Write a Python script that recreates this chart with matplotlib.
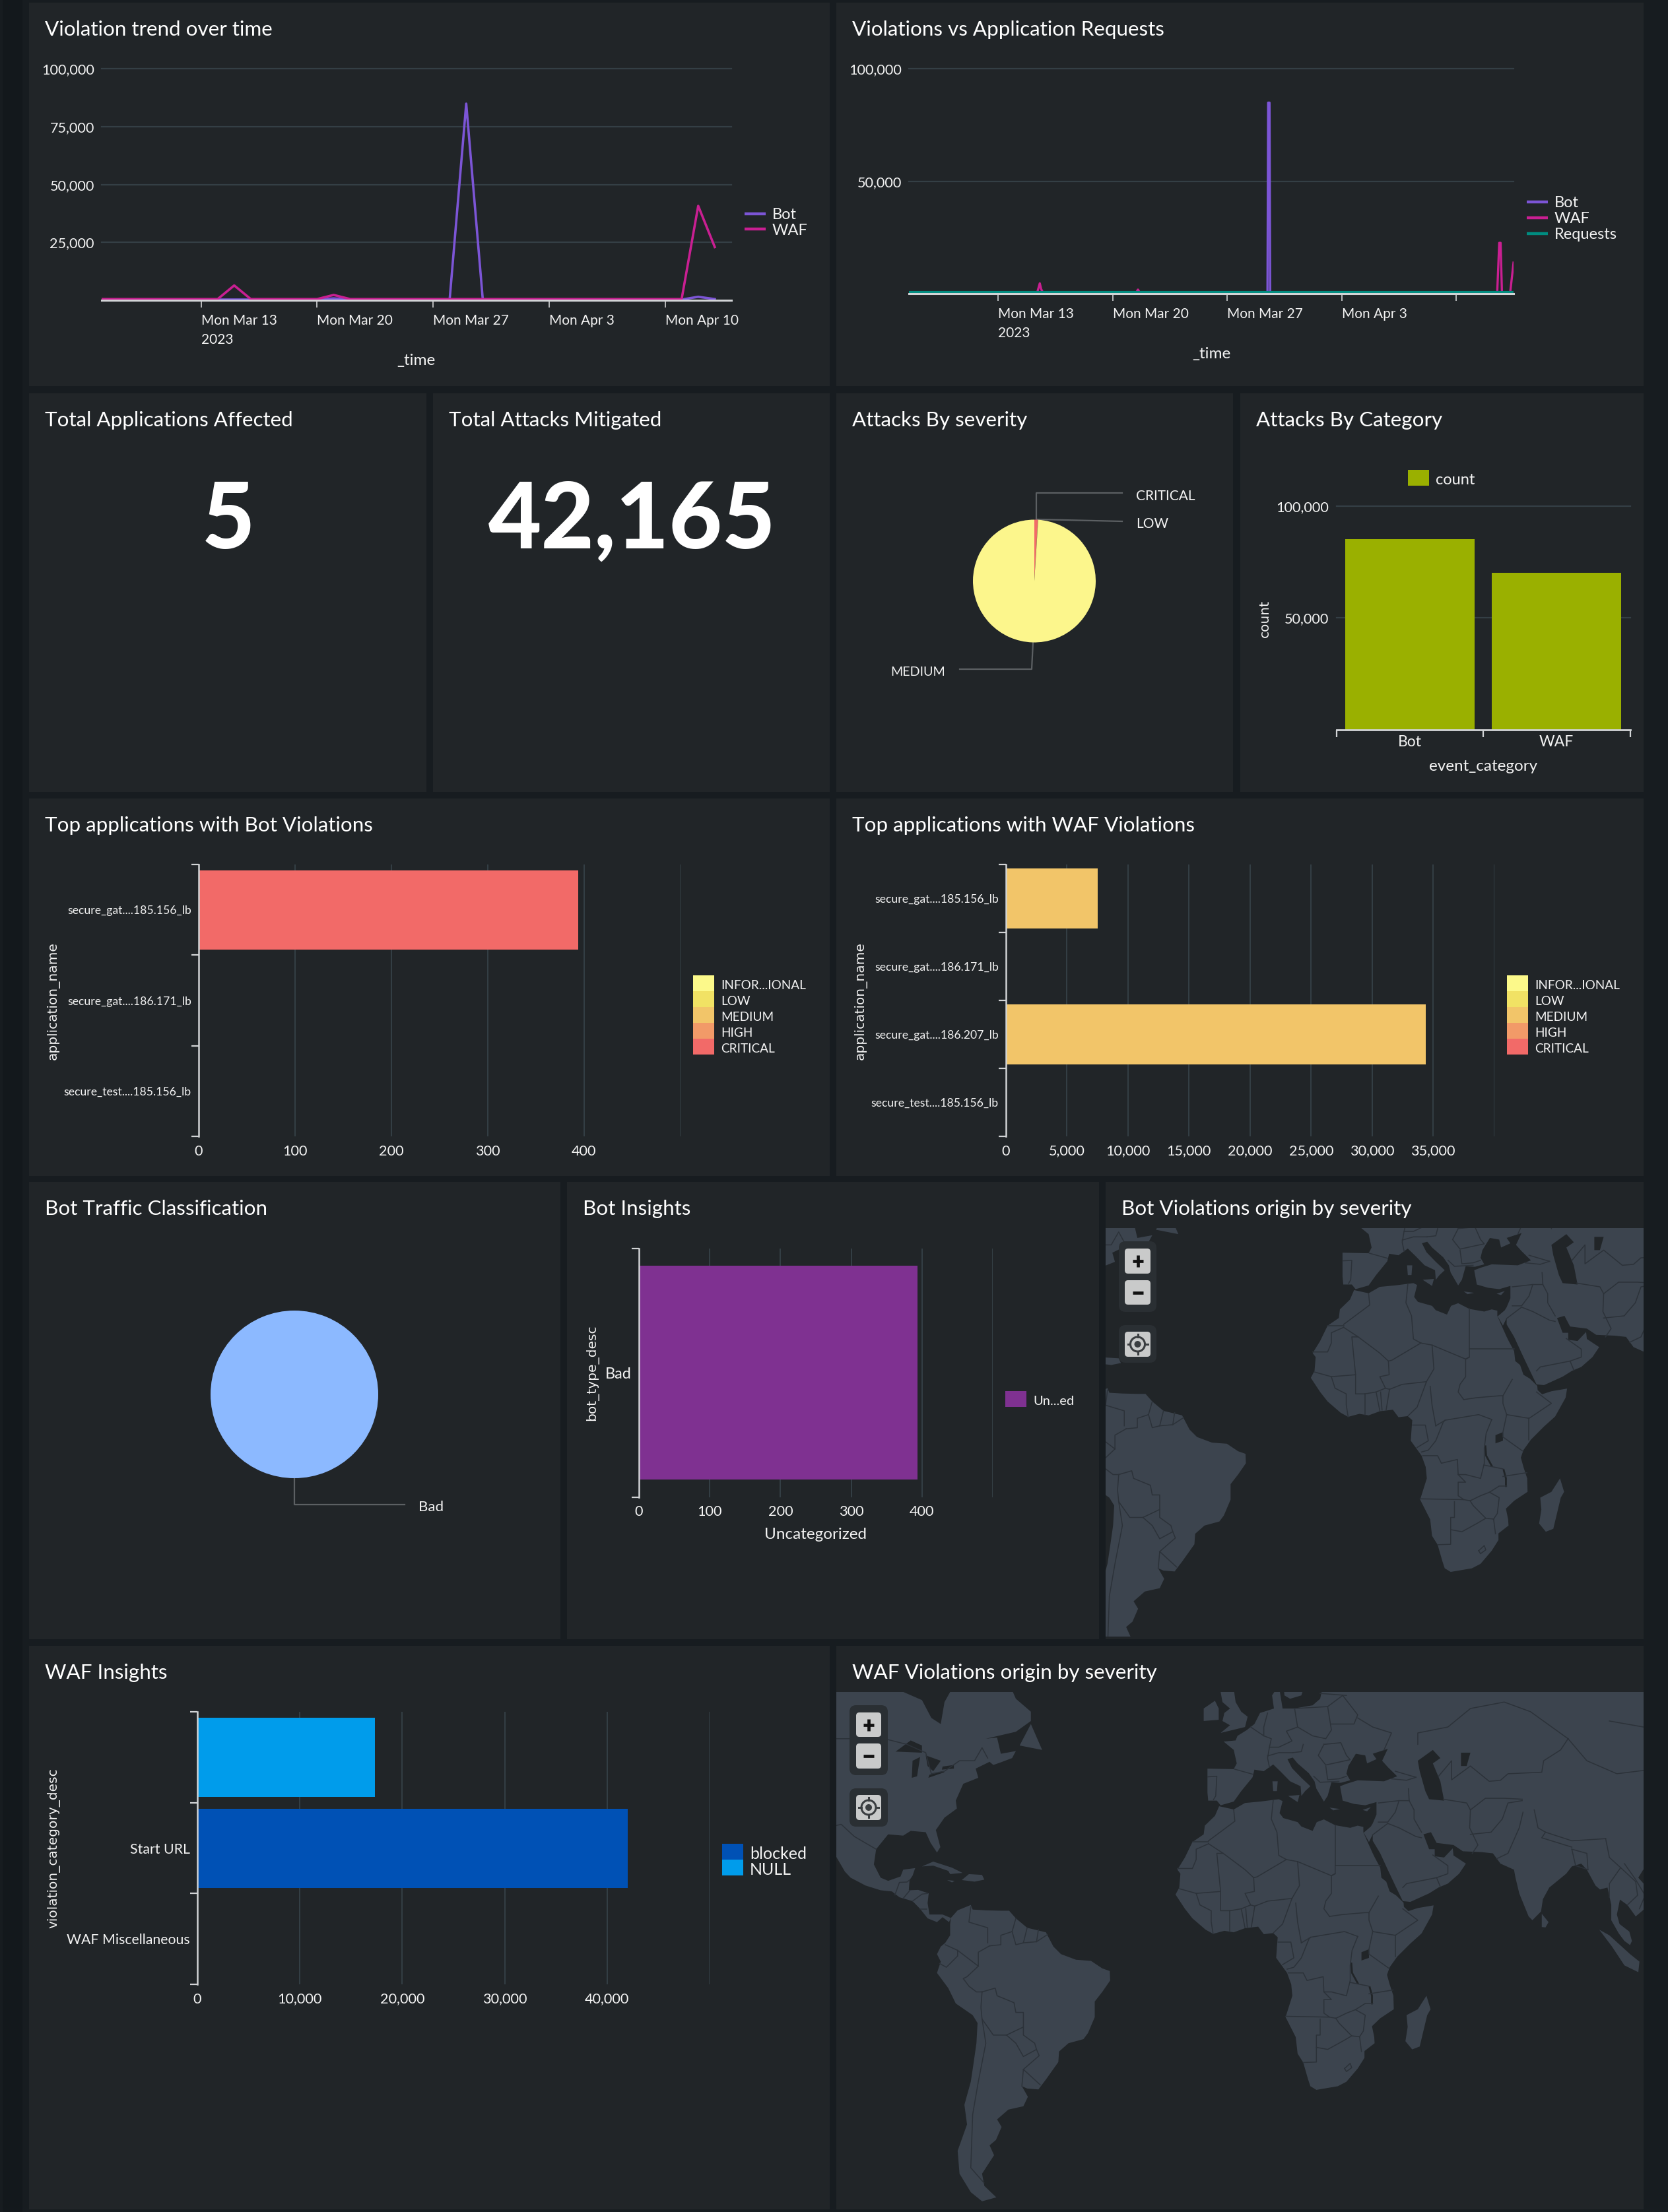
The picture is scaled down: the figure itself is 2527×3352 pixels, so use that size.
import numpy as np
import pandas as pd
import matplotlib
matplotlib.use("Agg")
import matplotlib.pyplot as plt
from matplotlib.patches import Rectangle, FancyBboxPatch, Circle

plt.rcParams["font.family"] = ["Lato", "DejaVu Sans"]

W, H = 2527, 3352
PAGE = "#171c20"
STRIP = "#13181c"
PANEL = "#212528"
GRID = "#343f45"
AXIS = "#d2d4d6"
TEXT = "#f2f2f2"
LEADER = "#5c6063"
LAND = "#3c444e"
BORDER = "#2c3239"
BOT_C = "#7c55d6"
WAF_C = "#c91f92"
REQ_C = "#008c80"
SEV_COLORS = ["#fcf98a", "#f1e264", "#f2c569", "#f29a68", "#f26a68"]

# =========================
# DATA
# =========================
trend_days = pd.date_range("2023-03-07", "2023-04-13", freq="D")
trend_bot = [300, 300, 300, 300, 300, 300, 300, 300, 300, 300, 300, 300, 300, 300, 800, 300, 300, 300, 300,
             300, 300, 300, 85000, 300, 300, 300, 300, 300, 300, 300, 300, 300, 300, 300, 300, 300, 1500, 500]
trend_waf = [500, 500, 500, 500, 500, 500, 500, 500, 6400, 500, 500, 500, 500, 500, 2300, 500, 500, 500, 500,
             500, 500, 500, 500, 500, 500, 500, 500, 500, 500, 500, 500, 500, 500, 500, 500, 500, 40800, 23000]
week_ticks = ["2023-03-13", "2023-03-20", "2023-03-27", "2023-04-03", "2023-04-10"]
trend_week_labels = ["Mon Mar 13\n2023", "Mon Mar 20", "Mon Mar 27", "Mon Apr 3", "Mon Apr 10"]
req_week_labels = ["Mon Mar 13\n2023", "Mon Mar 20", "Mon Mar 27", "Mon Apr 3", ""]

req_bot_t = ["2023-03-07 12:00", "2023-03-29 11:00", "2023-03-29 12:00", "2023-03-29 14:00", "2023-03-29 15:00", "2023-04-13 12:00"]
req_bot_v = [300, 300, 85000, 85000, 300, 300]
req_waf_t = ["2023-03-07 12:00", "2023-03-15 09:00", "2023-03-15 13:00", "2023-03-15 15:00", "2023-03-15 18:00",
             "2023-03-21 10:00", "2023-03-21 13:00", "2023-03-21 16:00", "2023-04-12 12:00", "2023-04-12 15:00",
             "2023-04-12 17:00", "2023-04-12 19:00", "2023-04-13 07:00", "2023-04-13 12:00"]
req_waf_v = [300, 300, 4600, 2000, 300, 300, 1800, 300, 300, 22600, 22600, 300, 300, 13800]
req_req_t = ["2023-03-07 12:00", "2023-04-13 12:00"]
req_req_v = [500, 500]

severity_names = ["CRITICAL", "LOW", "MEDIUM"]
severity_counts = [394, 30, 41741]
severity_colors = ["#f26a68", "#f1e264", "#fcf68c"]

category_names = ["Bot", "WAF"]
category_counts = [85300, 70000]

bot_apps = ["secure_gat....185.156_lb", "secure_gat....186.171_lb", "secure_test....185.156_lb"]
bot_app_counts = [394, 0, 0]
waf_apps = ["secure_gat....185.156_lb", "secure_gat....186.171_lb", "secure_gat....186.207_lb", "secure_test....185.156_lb"]
waf_app_counts = [7520, 0, 34370, 0]
sev_legend = ["INFOR...IONAL", "LOW", "MEDIUM", "HIGH", "CRITICAL"]

bot_types = ["Bad"]
bot_type_counts = [394]

waf_cats = ["", "Start URL", "WAF Miscellaneous"]
waf_null = [17350, 0, 0]
waf_blocked = [0, 42000, 0]

# world outlines, (lon, lat)
africa = [(-5.9, 35.8), (-2, 35.1), (1, 36.5), (5, 36.8), (10, 37.3), (11, 36.9), (10.2, 34.3), (11.2, 33.2), (15, 32.3),
          (16, 31.3), (19, 30.3), (20.1, 32.3), (22, 32.9), (25, 31.6), (29, 31), (31, 31.5), (32.5, 31.2), (32.5, 30),
          (33.5, 28), (35, 25), (35.6, 23.9), (37, 21.5), (37.3, 19), (38.6, 18), (39.5, 15.5), (41.2, 14.5), (43.2, 12.6),
          (43.3, 11.5), (44.5, 10.4), (47, 11.2), (51.2, 11.9), (50.8, 9.5), (48, 4.5), (45, 1.8), (41.5, -1.7), (39.5, -4.5),
          (38.8, -6.5), (39.5, -9), (40.5, -12), (40.6, -15.5), (37, -17.8), (34.8, -19.8), (35.4, -22.5), (35.5, -24),
          (32.8, -25.9), (32.8, -27.5), (31, -30), (28, -33), (25.7, -34), (20, -34.8), (18.4, -34), (17.8, -32.5),
          (16.5, -28.6), (15, -26.5), (14.5, -22.5), (11.8, -17.5), (13.6, -12), (13.3, -9), (12.2, -6), (9.3, -2), (9.5, 1),
          (9.7, 3.5), (8.5, 4.6), (6, 4.3), (4.5, 6.3), (1, 5.9), (-2, 4.8), (-4.5, 5.2), (-7.5, 4.4), (-9.5, 5.5), (-13, 8.5),
          (-15, 11), (-17.5, 14.7), (-16.5, 16.5), (-16.2, 20), (-17, 21), (-15, 24), (-13, 27.7), (-10, 29.5), (-9.7, 31.5),
          (-7, 33.7), (-5.9, 35.8)]
south_america = [(-77.3, 8.6), (-75.5, 10.6), (-72, 12), (-71.5, 10.8), (-68, 10.6), (-64, 10.5), (-61.8, 10.5), (-60, 8.5),
                 (-57, 6), (-52, 4.8), (-50, 1), (-48, -1), (-44, -2.5), (-40, -2.8), (-37, -4.8), (-35, -5.5), (-34.9, -8),
                 (-37, -11), (-39, -13.5), (-39, -17.5), (-40.8, -21.5), (-42, -23), (-46, -24), (-48.5, -26), (-48.7, -28.5),
                 (-52, -32.5), (-54, -34.7), (-57, -34.5), (-58.4, -34), (-56.8, -36.3), (-58, -38.3), (-62, -39), (-65, -41),
                 (-63.8, -42.5), (-65.3, -45), (-67, -46), (-65.8, -47.8), (-69, -51), (-68.4, -53), (-65.2, -54.8), (-69, -55.4),
                 (-72, -54), (-75, -51), (-75.5, -47), (-73, -42), (-73.7, -38), (-72, -33), (-71.3, -29), (-70.5, -24), (-70.2, -19),
                 (-71.5, -17), (-76, -14), (-78, -10), (-81, -6), (-80, -3), (-81, -1), (-80, 1), (-78.8, 2), (-77.5, 4), (-77.5, 7),
                 (-77.3, 8.6)]
north_america = [(-77.3, 8.6), (-79.5, 9.5), (-83, 9.5), (-83.5, 12.5), (-83.2, 15), (-86, 15.9), (-88.5, 15.8), (-88.3, 18.4),
                 (-87.5, 19.5), (-86.8, 21.4), (-90, 21), (-90.7, 19.3), (-94, 18.2), (-96, 19), (-97.8, 22.3), (-97.2, 26),
                 (-94, 29.5), (-90, 29.2), (-88, 30.3), (-84, 30), (-82.7, 27.5), (-81, 25.2), (-80.1, 26.5), (-81.3, 30.5),
                 (-79, 33.3), (-75.7, 35.3), (-76, 37), (-74, 40.5), (-70, 41.7), (-70.7, 43.5), (-67, 44.8), (-66, 44.2),
                 (-64, 44.7), (-61, 45.5), (-60, 46.8), (-64, 46.3), (-65, 49.2), (-68, 49), (-60, 50.2), (-56, 52), (-56, 53.5),
                 (-60, 55.5), (-62, 58), (-65, 60.3), (-70, 59), (-70, 61), (-78, 62.5), (-77, 57), (-79, 55), (-80, 51.5),
                 (-82.5, 52.5), (-85, 55.3), (-92, 57), (-95, 59), (-94, 61), (-90, 64), (-90, 68), (-100, 68), (-115, 68),
                 (-130, 70), (-141, 70), (-156, 71), (-166, 68), (-165, 64), (-162, 60), (-158, 58), (-165, 54.5), (-155, 58),
                 (-150, 60), (-146, 61), (-140, 60), (-135, 58), (-130, 55), (-127, 51), (-124, 48.5), (-124, 46), (-124.3, 42),
                 (-122.5, 37.5), (-120.5, 34.5), (-117.2, 32.5), (-115, 28), (-110, 23), (-112, 28.5), (-114.5, 31.5), (-112, 29),
                 (-109, 26), (-105.5, 20.5), (-104, 19), (-100, 17), (-96, 15.8), (-93, 15.5), (-91, 14), (-87.5, 13), (-85.5, 11),
                 (-83.5, 8.5), (-81, 7.5), (-79.5, 8.8), (-77.8, 7.5), (-77.3, 8.6)]
eurasia = [(-5.5, 36), (-2, 36.8), (0, 39), (3, 41.8), (3.5, 43.3), (6, 43), (8.5, 44.3), (10.5, 42.9), (13, 41), (15.8, 40), (16, 38),
           (17, 39), (18.4, 40), (16, 41.7), (13.5, 43.6), (12.3, 45.3), (13.7, 45.6), (15, 44.5), (18, 42.6), (19.5, 41), (20, 39.5),
           (22, 36.8), (23, 38), (24, 40.8), (26.5, 40.7), (29, 41.2), (28, 42.5), (28.5, 44), (30.5, 46.3), (33, 46), (33.5, 44.5),
           (36, 45.3), (35, 46.3), (39, 47.2), (37.5, 45), (39, 43.8), (41.5, 42), (38, 41), (31, 41.2), (28, 40.5), (26.3, 40),
           (27, 37), (30, 36.3), (33, 36), (36, 36.7), (36, 34), (35, 32), (34.5, 31.3), (32.6, 29.9), (34, 27.7), (35, 29.5), (35, 28),
           (37, 25), (39, 21), (41, 17), (43, 13), (45, 12.8), (50, 15), (52.5, 16.5), (55, 17.5), (58, 20), (59.8, 22.5), (56.5, 24.5),
           (56.3, 26.2), (54, 24), (51.5, 24.3), (51.5, 26), (50, 26), (48.5, 29.5), (50.5, 30), (52, 27.5), (56.5, 27), (59, 25.5),
           (64, 25.3), (67, 25), (69, 22.5), (72.6, 21), (73, 19), (74, 15), (76.5, 9), (77.5, 8), (79.8, 10.3), (80.3, 13.5), (82, 16.5),
           (86.5, 20), (88, 21.8), (90.5, 22.5), (92, 21), (94.3, 17), (95.5, 16), (97.5, 16.5), (98.5, 12), (98.5, 8), (100.5, 4.5),
           (102, 2.5), (103.5, 1.4), (104, 2.5), (103.3, 5), (100.7, 7), (100, 9.5), (100.8, 13.4), (102.8, 12), (105, 9), (106.8, 10.5),
           (109, 12.5), (108.5, 16), (105.7, 19), (107, 21), (110, 21), (114, 22.3), (118, 24.5), (121, 28), (122, 31), (119, 35),
           (122.5, 37), (118, 38.5), (121.5, 40), (125, 39.7), (126.5, 37), (126.3, 34.5), (129, 35.3), (127.5, 39.5), (130, 42.5),
           (135, 44), (140, 48.5), (141, 53), (135, 54.7), (142, 59), (155, 59), (163, 62), (180, 65), (180, 70), (140, 73), (110, 77),
           (80, 73), (67, 69), (55, 68.5), (44, 66), (41, 67), (33, 69.5), (25, 71), (15, 68), (5, 62), (5.5, 59), (8, 58), (11, 59),
           (11.5, 56), (13, 55.5), (16, 56), (18.5, 60), (17, 62), (21, 64), (24, 65.7), (22, 63), (21.5, 61), (23, 60), (30, 60),
           (25, 59.3), (22, 58), (21, 55.5), (19, 54.5), (14, 54), (11, 54), (10, 57.5), (8.2, 56), (8.7, 54), (5, 53.3), (3.5, 51.5),
           (1.5, 50.5), (-1, 49.5), (-1.5, 48.7), (-4.7, 48.5), (-2, 47), (-1.2, 44.5), (-2, 43.4), (-9, 43.5), (-9, 38.7), (-8.8, 37),
           (-6.5, 37), (-5.5, 36)]
islands = [
    [(-5.5, 50), (1, 51), (1.7, 52.7), (0, 53.5), (-1.5, 55), (-2, 57), (-3.5, 58.6), (-6, 58), (-5, 55), (-3, 54), (-4.5, 53.3), (-5, 52), (-3, 51.3), (-5.5, 50)],
    [(-6, 52.2), (-6, 54), (-7, 55.2), (-10, 54), (-10, 52), (-6, 52.2)],
    [(-85, 21.8), (-82, 23), (-77, 21.5), (-74.2, 20.2), (-77.5, 19.9), (-78, 20.7), (-82, 22), (-85, 21.8)],
    [(-74.4, 18.4), (-72.5, 19.9), (-69, 19.7), (-68.4, 18.5), (-71, 18), (-74.4, 18.4)],
    [(-78.3, 18.4), (-76.3, 18.2), (-77, 17.8), (-78.3, 18.4)],
    [(49.3, -12), (50.4, -15.5), (49.5, -17), (47.5, -24.8), (45.5, -25.5), (43.7, -23.5), (44.3, -20), (44, -17), (47, -15.5), (49.3, -12)],
    [(80, 9.7), (81.8, 7.5), (81, 6.1), (80, 6.2), (80, 9.7)],
    [(95.3, 5.5), (98, 4), (103.5, -1), (106, -3), (105.7, -5.8), (102, -4), (98.7, 1), (95.3, 5.5)],
    [(-59, 47.8), (-56, 51.5), (-53, 47), (-59, 47.8)],
    [(12.5, 38), (15.5, 38.2), (15, 36.7), (12.5, 38)],
    [(8.3, 41), (9.7, 41), (9.5, 39), (8.5, 39), (8.3, 41)],
    [(23.5, 35.5), (26.3, 35.2), (24.5, 34.9), (23.5, 35.5)],
    [(32.3, 35), (34.5, 35.6), (33.5, 34.7), (32.3, 35)],
]
lakes = [
    [(47, 45), (51, 47), (53, 45.5), (51, 44.5), (53, 41), (54, 37), (50, 37.3), (49, 39), (47.5, 43), (47, 45)],
    [(-92, 46.7), (-88, 48.7), (-85, 47.8), (-85, 46.5), (-92, 46.7)],
    [(-87.7, 41.7), (-86.3, 42), (-85.5, 45.7), (-87.5, 45), (-87.7, 41.7)],
    [(-84, 46), (-80, 45), (-82, 43), (-83.5, 44), (-84, 46)],
    [(-83.3, 41.7), (-79, 42.8), (-79.5, 43), (-83, 42.3), (-83.3, 41.7)],
    [(-79.7, 43.3), (-76.5, 43.5), (-76.5, 44.2), (-79.5, 43.9), (-79.7, 43.3)],
    [(32, -0.5), (34, 0.3), (34, -2), (32, -2.7), (32, -0.5)],
    [(58.5, 46.5), (61, 46.5), (60, 44), (58.5, 44), (58.5, 46.5)],
]
thin_lakes = [
    [(29.3, -3.5), (29.5, -6), (31, -8.7)],
    [(34.2, -9.8), (34.8, -12), (34.8, -14)],
]
borders = [
    # africa
    [(-2, 35), (-1.7, 32.5), (-8.7, 28)], [(-8.7, 27.7), (-13, 27.7)], [(-8.7, 27.3), (-12, 26), (-12, 23.5), (-13, 21.3), (-17, 21.3)],
    [(-8.7, 27.3), (-4.8, 25), (-6.5, 25), (-5.5, 15.5), (-12, 15), (-16.5, 16.2)], [(-4.8, 25), (1, 21), (3.3, 19), (4.2, 19.2), (12, 23.5)],
    [(8.5, 37), (8, 33), (9.5, 30), (10, 24.5), (12, 23.5)], [(12, 23.5), (15, 23), (24, 19.5), (25, 20)], [(25, 31.6), (25, 22), (37, 22)],
    [(25, 22), (25, 20), (24, 19.5), (24, 15), (22.5, 13), (22, 11), (23.5, 9)], [(15, 23), (15.5, 17), (13.5, 13.7)],
    [(3.6, 11.7), (7, 13), (13.5, 13.7)], [(3.3, 19), (3.5, 15.5), (1, 15), (2.5, 12)], [(-5.5, 15.5), (-5.5, 10.5), (-3, 10.5), (0, 11), (2.5, 12), (3.6, 11.7)],
    [(2.7, 6.3), (3.6, 11.7)], [(8.6, 4.7), (11, 7), (13.5, 13.7)], [(14.5, 12.5), (15, 7.5), (16, 2)], [(-3, 5), (-3, 10.5)], [(1, 6), (0, 11)],
    [(1.6, 6.2), (1.2, 11)], [(-12, 15), (-11, 12), (-8, 10.5), (-8, 7.6), (-7.5, 4.4)], [(36.5, 14.3), (34, 10), (34, 8), (35, 5)],
    [(23.5, 9), (27, 9.5), (33, 10), (34, 10)], [(16, 2), (18.5, 3.5), (27.5, 5), (31, 3.7)], [(35, 5), (41, 4), (47, 8), (43, 11)], [(41, 4), (41, -1.7)],
    [(35, 5), (34, 0.3), (34, -1), (39.2, -4.7)], [(31, 3.7), (29.5, 0), (29, -4), (29, -8), (28, -12), (24, -11), (22, -11), (21.8, -7), (17.5, -8), (16.5, -6), (12.5, -6)],
    [(12.2, -5), (14, -4.5), (16, -2), (18, 3), (18.5, 3.5)], [(9.8, 2.2), (13.2, 2.2), (14, -2), (11, -3.8)], [(34, -11.5), (40.4, -10.5)], [(29, -8.5), (34, -9.5)],
    [(11.8, -17.3), (23.5, -17.5), (25.2, -17.8)], [(22, -11), (24, -13), (22, -13), (22, -16.5), (23.5, -17.5)], [(21, -18), (21, -22), (20, -22), (20, -28.5), (16.5, -28.6)],
    [(20, -25), (23, -25.5), (27, -23.5), (29.4, -22.2), (31.5, -22.4), (32, -26)], [(25.2, -17.8), (28, -16.5), (30.4, -15.6), (33, -14), (35, -14)],
    [(30.4, -15.6), (33, -17), (32.5, -21), (31.5, -22.4)], [(25.2, -17.8), (26, -19), (29.4, -22.2)], [(27.5, -30), (29, -28.8), (29.4, -29.8), (28, -30.7), (27.5, -30)],
    # south america
    [(-72, 11.5), (-72.5, 7.5), (-67.5, 6), (-67.5, 2)], [(-60, 8.5), (-61, 5), (-64, 4), (-64, 1.5), (-67, 1.2)], [(-57, 6), (-58, 2), (-60, 1.5), (-61, 5)],
    [(-54, 5.5), (-54.5, 2.3), (-58, 2)], [(-51.6, 4.2), (-54.5, 2.3)], [(-67, 1.2), (-70, -0.5), (-70, -4.2), (-73, -7), (-74, -7.5), (-72.5, -9.5), (-70.5, -11), (-69, -11)],
    [(-78.8, 1.5), (-75.5, 0), (-75.5, -1.5), (-78.5, -4.5), (-80.3, -3.5)], [(-75.5, 0), (-70, -4.2)],
    [(-69, -11), (-65.5, -10), (-65, -12), (-60.5, -13.8), (-60, -16.3), (-58, -16.3), (-58, -20), (-62.5, -22), (-66, -22), (-69, -18), (-69.3, -15), (-69, -11)],
    [(-69, -18), (-68, -24), (-70, -33), (-71.5, -40), (-72, -50), (-68.5, -52.5)], [(-58, -20), (-58, -22), (-55, -24), (-54.5, -25.5), (-58, -27.2), (-60, -24), (-62.5, -22)],
    [(-58.4, -34), (-58, -30.2), (-53.5, -33.7)], [(-58, -30.2), (-53.8, -27), (-54.5, -25.5)],
    # north america
    [(-123, 49), (-95, 49), (-89, 48), (-84, 46.5), (-82.5, 42.5), (-79, 43), (-75, 45), (-71, 45), (-69, 47.4), (-67.5, 45.5)],
    [(-117, 32.5), (-108, 31.5), (-106.5, 31.8), (-103, 29), (-97.2, 26)], [(-92.2, 14.6), (-91, 17.8), (-89, 17.9), (-88.3, 18.4)], [(-88.2, 15.8), (-90, 13.7)],
    [(-87.5, 13), (-85, 14.8), (-83.5, 15)], [(-85.5, 11), (-83.7, 11)],
    # europe and asia
    [(-8.9, 41.9), (-6.5, 42), (-6.8, 38), (-7.4, 37.2)], [(-1.8, 43.4), (3.1, 42.4)], [(2.5, 51), (6, 49.5), (8, 49), (7.5, 47.5), (7, 45.5), (7.5, 43.8)],
    [(7, 45.9), (10, 46.5), (13.7, 46.5)], [(14.2, 54), (15, 51), (12, 50.3), (13.5, 48.6), (10, 47.5), (7.5, 47.5)], [(7, 53.3), (6, 51), (6, 49.5)],
    [(14.2, 54), (23, 54.3), (24, 50.5), (22.5, 49), (19, 49.5), (15, 51)], [(23, 54.3), (27, 56), (31, 53), (30, 51.5), (24, 51.5)], [(31, 52.5), (35, 51), (40, 50), (38, 47)],
    [(22, 48), (26.5, 48.3), (28, 46), (29, 45.2), (22.5, 44.2), (20.5, 46), (22, 48)], [(22.5, 44), (23, 41.3), (26, 41.5), (28, 42)], [(19.3, 42), (21, 40.8), (26, 41)],
    [(16.5, 48), (16, 46.7), (13.7, 46.5)], [(21, 56.3), (28, 56)], [(47, 48), (47, 50), (55, 51), (61, 54), (70, 55), (77, 53.5), (87, 49)],
    [(52.5, 42), (56, 45), (56, 41.3), (61, 44), (66, 41), (69, 41.2), (71, 42.5), (80, 42.8), (80.5, 45), (85, 47), (87, 49)], [(44.5, 39.5), (44.7, 37), (46, 35), (46, 33), (48, 30)],
    [(36.5, 36.5), (42, 37), (44.7, 37)], [(40, 41.5), (44, 41.2), (46.5, 41.8)], [(41, 43), (46.5, 41.8)], [(53.8, 37.3), (60, 36.5), (61, 35), (60.8, 31), (63, 27), (61.5, 25)],
    [(61, 29.5), (66.5, 30), (69.5, 33), (71, 36.5), (74.8, 37)], [(61, 35), (65, 37.5), (70, 37.5), (74.8, 37.3)], [(68, 23.7), (71, 25), (74, 31), (75, 34.5)],
    [(78, 35), (79, 31), (81, 30), (88, 28), (97, 28.5)], [(81, 30), (80, 28.7), (88, 26.5)], [(88, 26), (89, 22), (92.3, 21)], [(88, 26), (92, 25), (92.3, 21)],
    [(97, 28.5), (98, 24), (101, 21.5), (98, 17.5), (98, 14)], [(101, 21.5), (105, 18), (105.5, 14.5), (102.8, 12)], [(102, 22.5), (105, 18.5), (107.5, 14.5), (106, 11)],
    [(87, 49), (92, 45), (100, 42.5), (111, 43.5), (120, 47), (116, 50), (98, 52)], [(35, 29.4), (39, 32), (42, 31), (46.5, 29), (48, 28.7)],
    [(51, 24.6), (55, 22), (55, 20), (52, 19), (44, 17.5), (43, 16.5)], [(52, 19), (53, 16.7)], [(36.5, 32.3), (39, 32.3), (41, 34.5), (42, 37)],
]


# =========================
# HELPERS
# =========================
def px_axes(fig, x0, x1, y_top, y_bottom, zorder=1):
    ax = fig.add_axes([x0 / W, 1 - y_bottom / H, (x1 - x0) / W, (y_bottom - y_top) / H], zorder=zorder)
    ax.patch.set_visible(False)
    for s in ax.spines.values():
        s.set_visible(False)
    return ax


def panel(bg, x0, x1, y0, y1, title, baseline):
    bg.add_patch(Rectangle((x0, y0), x1 - x0, y1 - y0, color=PANEL, lw=0))
    bg.text(x0 + 24, baseline + 2, title, color="white", fontsize=22.6, va="baseline", ha="left")


def line_legend(bg, x0, ys, names, colors):
    for y, name, c in zip(ys, names, colors):
        bg.plot([x0, x0 + 32], [y, y], color=c, lw=3.2, solid_capstyle="butt")
        bg.text(x0 + 42, y + 2, name, color=TEXT, fontsize=17, va="center")


def swatch_legend(bg, x0, y0, step, names, colors, size=32, fs=13.7):
    for i, (name, c) in enumerate(zip(names, colors)):
        bg.add_patch(Rectangle((x0, y0 + i * step), size, step, color=c, lw=0))
        bg.text(x0 + size + 10, y0 + i * step + step * 0.66, name, color=TEXT, fontsize=fs, va="center")


def wide_label(bg, x, y, text):
    # these vertical axis titles are set wider than the rest of the text
    bg.text(x, y, text, color=TEXT, fontsize=14.5, family="DejaVu Sans", rotation=90, ha="center", va="center")


def time_axes(ax, days_lim, labels, ymax, yticks):
    ax.set_xlim(pd.Timestamp(days_lim[0]), pd.Timestamp(days_lim[1]))
    ax.set_ylim(0, ymax)
    ax.set_xticks(pd.to_datetime(week_ticks))
    ax.set_xticklabels(labels, ha="left", color=TEXT, fontsize=15, linespacing=1.55)
    ax.set_yticks(yticks)
    ax.set_yticklabels([f"{v:,}" for v in yticks], color=TEXT, fontsize=15.6)
    ax.tick_params(axis="x", length=8, width=1.2, color=AXIS, pad=7)
    ax.tick_params(axis="y", length=0, pad=8)
    ax.grid(axis="y", color=GRID, lw=1.6)
    ax.set_axisbelow(True)
    for g in ax.get_ygridlines():
        g.set_clip_on(False)
    ax.spines["bottom"].set_visible(True)
    ax.spines["bottom"].set_color(AXIS)
    ax.spines["bottom"].set_linewidth(2.2)


def hbar_axes(ax, names, xmax, xticks, grid_ticks, label_fs):
    n = len(names)
    ax.set_ylim(n - 0.5, -0.5)
    ax.set_xlim(0, xmax)
    ax.set_yticks(np.arange(n + 1) - 0.5)
    ax.set_yticklabels([])
    ax.set_yticks(np.arange(n), minor=True)
    ax.set_yticklabels(names, minor=True, color=TEXT, fontsize=label_fs)
    ax.tick_params(axis="y", which="major", length=8, width=1.6, color=AXIS)
    ax.tick_params(axis="y", which="minor", length=0, pad=8)
    ax.set_xticks(grid_ticks)
    ax.set_xticklabels([f"{v:,}" if v in xticks else "" for v in grid_ticks], color=TEXT, fontsize=15.6)
    ax.tick_params(axis="x", length=0, pad=9)
    ax.grid(axis="x", color=GRID, lw=1.4)
    ax.set_axisbelow(True)
    ax.spines["left"].set_visible(True)
    ax.spines["left"].set_color(AXIS)
    ax.spines["left"].set_linewidth(1.8)


def merc(lat):
    return np.log(np.tan(np.pi / 4 + np.radians(lat) / 2))


def draw_map(ax, lon_lim, y_lim):
    ax.patch.set_visible(True)
    ax.set_facecolor(PANEL)
    ax.set_xlim(*lon_lim)
    ax.set_ylim(*y_lim)
    ax.set_xticks([])
    ax.set_yticks([])
    for poly in [africa, south_america, north_america, eurasia] + islands:
        pts = np.array(poly)
        ax.fill(pts[:, 0], merc(pts[:, 1]), color=LAND, lw=0)
    for poly in lakes:
        pts = np.array(poly)
        ax.fill(pts[:, 0], merc(pts[:, 1]), color=PANEL, lw=0)
    for line in thin_lakes:
        pts = np.array(line)
        ax.plot(pts[:, 0], merc(pts[:, 1]), color=PANEL, lw=2)
    for line in borders:
        pts = np.array(line)
        ax.plot(pts[:, 0], merc(pts[:, 1]), color=BORDER, lw=1.1)


def map_controls(fg, box_x0, box_x1, btn_x0, btn_x1, box1, box2, plus_y, minus_y, target_y):
    for y0, y1 in [box1, box2]:
        fg.add_patch(FancyBboxPatch((box_x0 + 8, y0 + 8), box_x1 - box_x0 - 16, y1 - y0 - 16,
                                    boxstyle="round,pad=8,rounding_size=10", color="#2a2f33", lw=0))
    for y0, y1 in [plus_y, minus_y, target_y]:
        fg.add_patch(FancyBboxPatch((btn_x0 + 5, y0 + 5), btn_x1 - btn_x0 - 10, y1 - y0 - 10,
                                    boxstyle="round,pad=5,rounding_size=5", color="#c9caca", lw=0))
    cx = (btn_x0 + btn_x1) / 2
    py = sum(plus_y) / 2
    my = sum(minus_y) / 2
    ty = sum(target_y) / 2
    fg.plot([cx - 8, cx + 8], [py, py], color="#111111", lw=3.4, solid_capstyle="butt")
    fg.plot([cx, cx], [py - 9, py + 9], color="#111111", lw=3.4, solid_capstyle="butt")
    fg.plot([cx - 8, cx + 8], [my, my], color="#111111", lw=3.4, solid_capstyle="butt")
    fg.add_patch(Circle((cx, ty), 11, fill=False, ec="#3a3d40", lw=2.2))
    fg.add_patch(Circle((cx, ty), 5, color="#3a3d40", lw=0))
    for dx, dy in [(-15, 0), (15, 0), (0, -15), (0, 15)]:
        fg.plot([cx + dx * 0.75, cx + dx], [ty + dy * 0.75, ty + dy], color="#3a3d40", lw=2.2)


# =========================
# FIGURE
# =========================
fig = plt.figure(figsize=(W / 100, H / 100), dpi=100, facecolor=PAGE)
bg = fig.add_axes([0, 0, 1, 1], zorder=0)
bg.set_xlim(0, W)
bg.set_ylim(H, 0)
bg.axis("off")
bg.add_patch(Rectangle((4, 0), 30, H, color=STRIP, lw=0))

panel(bg, 44, 1257, 4, 585, "Violation trend over time", 52)
panel(bg, 1267, 2490, 4, 585, "Violations vs Application Requests", 52)
panel(bg, 44, 646, 596, 1200, "Total Applications Affected", 644)
panel(bg, 656, 1257, 596, 1200, "Total Attacks Mitigated", 644)
panel(bg, 1267, 1868, 596, 1200, "Attacks By severity", 644)
panel(bg, 1879, 2490, 596, 1200, "Attacks By Category", 644)
panel(bg, 44, 1257, 1210, 1782, "Top applications with Bot Violations", 1258)
panel(bg, 1267, 2490, 1210, 1782, "Top applications with WAF Violations", 1258)
panel(bg, 44, 849, 1791, 2484, "Bot Traffic Classification", 1839)
panel(bg, 859, 1665, 1791, 2484, "Bot Insights", 1839)
panel(bg, 1675, 2490, 1791, 2484, "Bot Violations origin by severity", 1839)
panel(bg, 44, 1257, 2494, 3348, "WAF Insights", 2542)
panel(bg, 1267, 2490, 2494, 3348, "WAF Violations origin by severity", 2542)

# trend chart
ax = px_axes(fig, 154, 1108, 104.5, 455)
ax.plot(trend_days, trend_bot, color=BOT_C, lw=2.6)
ax.plot(trend_days, trend_waf, color=WAF_C, lw=2.6)
time_axes(ax, ("2023-03-07", "2023-04-14"), trend_week_labels, 100000, [25000, 50000, 75000, 100000])
bg.text(630, 547, "_time", color=TEXT, fontsize=17.5, ha="center", va="center")
line_legend(bg, 1128, [324, 347.5], ["Bot", "WAF"], [BOT_C, WAF_C])

# violations vs requests
ax = px_axes(fig, 1377, 2293, 104.5, 445)
ax.plot(pd.to_datetime(req_bot_t), req_bot_v, color=BOT_C, lw=2.4)
ax.plot(pd.to_datetime(req_waf_t), req_waf_v, color=WAF_C, lw=2.4)
ax.plot(pd.to_datetime(req_req_t), req_req_v, color=REQ_C, lw=3)
time_axes(ax, ("2023-03-07 13:00", "2023-04-13 12:00"), req_week_labels, 100000, [50000, 100000])
bg.text(1835, 537, "_time", color=TEXT, fontsize=17.5, ha="center", va="center")
line_legend(bg, 2313, [306, 330, 354], ["Bot", "WAF", "Requests"], [BOT_C, WAF_C, REQ_C])

# single values
bg.text(346, 790, "5", color="white", fontsize=100, fontweight="black", ha="center", va="center")
bg.text(958, 790, "42,165", color="white", fontsize=100, fontweight="black", ha="center", va="center")

# severity pie
ax = px_axes(fig, 1474, 1660, 787.5, 973.5)
ax.pie(severity_counts, colors=severity_colors, startangle=90, counterclock=False, radius=1.0)
ax.set_xlim(-1, 1)
ax.set_ylim(-1, 1)
bg.plot([1570, 1570, 1700], [787, 747, 747], color=LEADER, lw=1.6)
bg.plot([1570, 1700], [787, 790], color=LEADER, lw=1.6)
bg.plot([1565, 1563, 1454], [974, 1014, 1014], color=LEADER, lw=1.6)
bg.text(1721, 752, "CRITICAL", color=TEXT, fontsize=15, va="center")
bg.text(1721, 794, "LOW", color=TEXT, fontsize=15, va="center")
bg.text(1349, 1018, "MEDIUM", color=TEXT, fontsize=14.2, va="center")

# category bars
ax = px_axes(fig, 2024.5, 2469.5, 766.7, 1106)
ax.bar(range(2), category_counts, width=0.88, color="#9ab000", lw=0)
ax.set_xlim(-0.5, 1.5)
ax.set_ylim(0, 100000)
ax.set_yticks([50000, 100000])
ax.set_yticklabels(["50,000", "100,000"], color=TEXT, fontsize=15.6)
ax.tick_params(axis="y", length=0, pad=8)
ax.grid(axis="y", color=GRID, lw=1.6)
ax.set_axisbelow(True)
for g in ax.get_ygridlines():
    g.set_clip_on(False)
ax.set_xticks([-0.5, 0.5, 1.5])
ax.set_xticklabels([])
ax.set_xticks([0, 1], minor=True)
ax.set_xticklabels(category_names, minor=True, color=TEXT, fontsize=16.5)
ax.tick_params(axis="x", which="major", length=8, width=1.6, color=AXIS)
ax.tick_params(axis="x", which="minor", length=0, pad=6)
ax.spines["bottom"].set_visible(True)
ax.spines["bottom"].set_color(AXIS)
ax.spines["bottom"].set_linewidth(2)
bg.text(2247, 1161, "event_category", color=TEXT, fontsize=17.5, ha="center", va="center")
wide_label(bg, 1916, 937, "count")
bg.add_patch(Rectangle((2133, 712), 32, 24, color="#9ab000", lw=0))
bg.text(2175, 727, "count", color=TEXT, fontsize=17, va="center")

# top apps, bot
ax = px_axes(fig, 301, 1031, 1310, 1722)
ax.barh(range(3), bot_app_counts, height=0.875, color=SEV_COLORS[4], lw=0)
hbar_axes(ax, bot_apps, 500, [0, 100, 200, 300, 400], [0, 100, 200, 300, 400, 500], 12.7)
wide_label(bg, 81, 1517, "application_name")
swatch_legend(bg, 1050, 1478, 24, sev_legend, SEV_COLORS)

# top apps, waf
ax = px_axes(fig, 1524, 2263.6, 1310, 1722)
ax.barh(range(4), waf_app_counts, height=0.875, color=SEV_COLORS[2], lw=0)
hbar_axes(ax, waf_apps, 40000, list(range(0, 35001, 5000)), list(range(0, 40001, 5000)), 12.7)
wide_label(bg, 1304, 1517, "application_name")
swatch_legend(bg, 2283, 1478, 24, sev_legend, SEV_COLORS)

# bot traffic pie
ax = px_axes(fig, 319, 573, 1986, 2240)
ax.pie([394], colors=["#8cb9ff"], startangle=90, radius=1.0)
ax.set_xlim(-1, 1)
ax.set_ylim(-1, 1)
bg.plot([446, 446, 613], [2240, 2280, 2280], color=LEADER, lw=1.6)
bg.text(634, 2284, "Bad", color=TEXT, fontsize=16, va="center")

# bot insights
ax = px_axes(fig, 968, 1504, 1892, 2268.6)
ax.barh(range(1), bot_type_counts, height=0.86, color="#7f3191", lw=0)
hbar_axes(ax, bot_types, 500, [0, 100, 200, 300, 400], [0, 100, 200, 300, 400, 500], 17)
bg.text(1235, 2325, "Uncategorized", color=TEXT, fontsize=17.5, ha="center", va="center")
wide_label(bg, 897, 2080, "bot_type_desc")
swatch_legend(bg, 1523, 2108, 24, ["Un...ed"], ["#7f3191"], size=32, fs=14.5)

# waf insights
ax = px_axes(fig, 299, 1075, 2594.4, 3007)
ax.barh(range(3), waf_null, height=0.87, color="#009ceb", lw=0)
ax.barh(range(3), waf_blocked, height=0.87, color="#0051b5", lw=0)
hbar_axes(ax, waf_cats, 50000, [0, 10000, 20000, 30000, 40000], [0, 10000, 20000, 30000, 40000, 50000], 15.3)
wide_label(bg, 81, 2801, "violation_category_desc")
swatch_legend(bg, 1094, 2794, 24, ["blocked", "NULL"], ["#0051b5", "#009ceb"], fs=18)

# maps
ax = px_axes(fig, 1675, 2490, 1861, 2480)
draw_map(ax, (-72.5, 71.7), (-0.951, 0.960))
ax = px_axes(fig, 1267, 2490, 2564, 3348)
draw_map(ax, (-107.8, 107.1), (-1.204, 1.201))

fg = fig.add_axes([0, 0, 1, 1], zorder=3)
fg.patch.set_visible(False)
fg.set_xlim(0, W)
fg.set_ylim(H, 0)
fg.axis("off")
map_controls(fg, 1695, 1752, 1704, 1743, (1881, 1988), (2008, 2065), (1892, 1930), (1940, 1977), (2018, 2056))
map_controls(fg, 1287, 1345, 1297, 1335, (2584, 2690), (2710, 2768), (2595, 2632), (2642, 2680), (2720, 2758))

fig.savefig("out.png", dpi=100, facecolor=PAGE)
